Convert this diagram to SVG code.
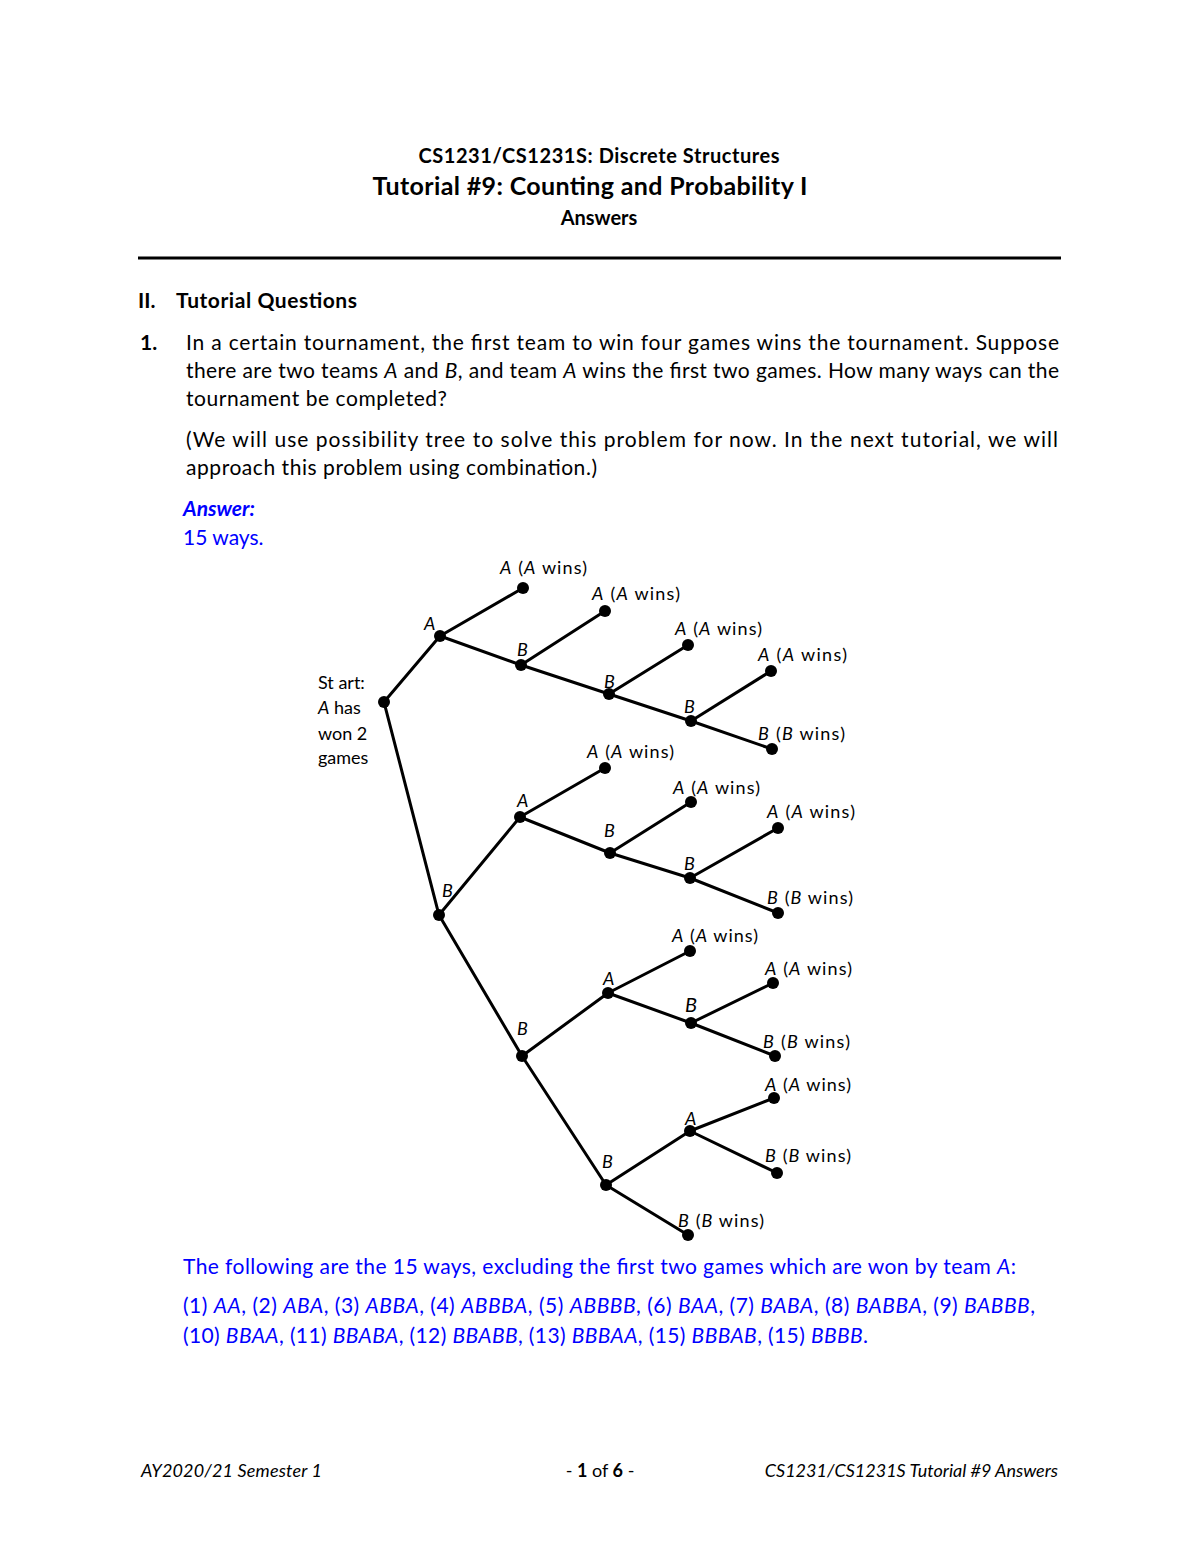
<svg xmlns="http://www.w3.org/2000/svg" width="1200" height="1553" viewBox="0 0 1200 1553">
<style>
text{font-family:Lato,"Open Sans","Liberation Sans",sans-serif;fill:#000}
.b{font-weight:bold}
.i{font-style:italic}
.body{font-size:21px}
.blue{fill:#0000ff}
.lbl{font-size:18px}
.edge{stroke:#000;stroke-width:3;stroke-linecap:round;fill:none}
.dot{fill:#000}
</style>
<rect width="1200" height="1553" fill="#fff"/>
<g id="header">
<text class="b" x="599" y="163" font-size="20" text-anchor="middle" textLength="361">CS1231/CS1231S: Discrete Structures</text>
<text class="b" x="590" y="195" font-size="25" text-anchor="middle" textLength="435">Tutorial #9: Counting and Probability I</text>
<text class="b" x="599" y="225" font-size="20" text-anchor="middle">Answers</text>
<line x1="138" y1="258" x2="1061" y2="258" stroke="#000" stroke-width="3"/>
</g>
<g id="question" class="body">
<text class="b" x="138" y="308">II.</text>
<text class="b" x="176" y="308" textLength="181">Tutorial Questions</text>
<text class="b" x="140" y="350">1.</text>
<text x="186" y="350" textLength="873">In a certain tournament, the first team to win four games wins the tournament. Suppose</text>
<text x="186" y="378" textLength="873">there are two teams <tspan class="i">A</tspan> and <tspan class="i">B</tspan>, and team <tspan class="i">A</tspan> wins the first two games. How many ways can the</text>
<text x="186" y="406" textLength="261">tournament be completed?</text>
<text x="186" y="447" textLength="872">(We will use possibility tree to solve this problem for now. In the next tutorial, we will</text>
<text x="186" y="475" textLength="411">approach this problem using combination.)</text>
<text class="b i blue" x="183" y="516">Answer:</text>
<text class="blue" x="183" y="545">15 ways.</text>
</g>
<g id="connectors">
<line class="edge" x1="384" y1="702" x2="440" y2="636"/>
<line class="edge" x1="384" y1="702" x2="439" y2="915"/>
<line class="edge" x1="440" y1="636" x2="523" y2="588"/>
<line class="edge" x1="440" y1="636" x2="521" y2="665"/>
<line class="edge" x1="521" y1="665" x2="605" y2="611"/>
<line class="edge" x1="521" y1="665" x2="609" y2="694"/>
<line class="edge" x1="609" y1="694" x2="688" y2="645"/>
<line class="edge" x1="609" y1="694" x2="691" y2="721"/>
<line class="edge" x1="691" y1="721" x2="771" y2="671"/>
<line class="edge" x1="691" y1="721" x2="772" y2="749"/>
<line class="edge" x1="439" y1="915" x2="520" y2="817"/>
<line class="edge" x1="439" y1="915" x2="522" y2="1056"/>
<line class="edge" x1="520" y1="817" x2="605" y2="768"/>
<line class="edge" x1="520" y1="817" x2="610" y2="853"/>
<line class="edge" x1="610" y1="853" x2="691" y2="802"/>
<line class="edge" x1="610" y1="853" x2="690" y2="878"/>
<line class="edge" x1="690" y1="878" x2="778" y2="828"/>
<line class="edge" x1="690" y1="878" x2="778" y2="913"/>
<line class="edge" x1="522" y1="1056" x2="608" y2="993"/>
<line class="edge" x1="522" y1="1056" x2="606" y2="1185"/>
<line class="edge" x1="608" y1="993" x2="690" y2="951"/>
<line class="edge" x1="608" y1="993" x2="691" y2="1023"/>
<line class="edge" x1="691" y1="1023" x2="773" y2="983"/>
<line class="edge" x1="691" y1="1023" x2="775" y2="1056"/>
<line class="edge" x1="606" y1="1185" x2="690" y2="1131"/>
<line class="edge" x1="606" y1="1185" x2="688" y2="1235"/>
<line class="edge" x1="690" y1="1131" x2="774" y2="1098"/>
<line class="edge" x1="690" y1="1131" x2="777" y2="1173"/>
</g>
<g id="tree" class="lbl">
<g id="start"><circle class="dot" cx="384" cy="702" r="6"/>
<text x="318" y="689" font-size="18">St art:</text>
<text x="318" y="714" font-size="18"><tspan class="i">A</tspan> has</text>
<text x="318" y="740" font-size="18">won 2</text>
<text x="318" y="764" font-size="18">games</text></g>
<g id="n-A"><circle class="dot" cx="440" cy="636" r="6"/><text class="i" x="424" y="630" font-size="18">A</text></g>
<g id="n-AA"><circle class="dot" cx="523" cy="588" r="6"/><text x="500" y="574" font-size="18" textLength="87"><tspan class="i">A</tspan> (<tspan class="i">A</tspan> wins)</text></g>
<g id="n-AB"><circle class="dot" cx="521" cy="665" r="6"/><text class="i" x="517" y="656" font-size="18">B</text></g>
<g id="n-ABA"><circle class="dot" cx="605" cy="611" r="6"/><text x="592" y="600" font-size="18" textLength="88"><tspan class="i">A</tspan> (<tspan class="i">A</tspan> wins)</text></g>
<g id="n-ABB"><circle class="dot" cx="609" cy="694" r="6"/><text class="i" x="604" y="688" font-size="18">B</text></g>
<g id="n-ABBA"><circle class="dot" cx="688" cy="645" r="6"/><text x="675" y="635" font-size="18" textLength="87"><tspan class="i">A</tspan> (<tspan class="i">A</tspan> wins)</text></g>
<g id="n-ABBB"><circle class="dot" cx="691" cy="721" r="6"/><text class="i" x="684" y="713" font-size="18">B</text></g>
<g id="n-ABBBA"><circle class="dot" cx="771" cy="671" r="6"/><text x="758" y="661" font-size="18" textLength="89"><tspan class="i">A</tspan> (<tspan class="i">A</tspan> wins)</text></g>
<g id="n-ABBBB"><circle class="dot" cx="772" cy="749" r="6"/><text x="758" y="740" font-size="18" textLength="87"><tspan class="i">B</tspan> (<tspan class="i">B</tspan> wins)</text></g>
<g id="n-B"><circle class="dot" cx="439" cy="915" r="6"/><text class="i" x="442" y="897" font-size="18">B</text></g>
<g id="n-BA"><circle class="dot" cx="520" cy="817" r="6"/><text class="i" x="517" y="807" font-size="18">A</text></g>
<g id="n-BAA"><circle class="dot" cx="605" cy="768" r="6"/><text x="587" y="758" font-size="18" textLength="87"><tspan class="i">A</tspan> (<tspan class="i">A</tspan> wins)</text></g>
<g id="n-BAB"><circle class="dot" cx="610" cy="853" r="6"/><text class="i" x="604" y="837" font-size="18">B</text></g>
<g id="n-BABA"><circle class="dot" cx="691" cy="802" r="6"/><text x="673" y="794" font-size="18" textLength="87"><tspan class="i">A</tspan> (<tspan class="i">A</tspan> wins)</text></g>
<g id="n-BABB"><circle class="dot" cx="690" cy="878" r="6"/><text class="i" x="684" y="870" font-size="18">B</text></g>
<g id="n-BABBA"><circle class="dot" cx="778" cy="828" r="6"/><text x="767" y="818" font-size="18" textLength="88"><tspan class="i">A</tspan> (<tspan class="i">A</tspan> wins)</text></g>
<g id="n-BABBB"><circle class="dot" cx="778" cy="913" r="6"/><text x="767" y="904" font-size="18" textLength="86"><tspan class="i">B</tspan> (<tspan class="i">B</tspan> wins)</text></g>
<g id="n-BB"><circle class="dot" cx="522" cy="1056" r="6"/><text class="i" x="517" y="1035" font-size="18">B</text></g>
<g id="n-BBA"><circle class="dot" cx="608" cy="993" r="6"/><text class="i" x="603" y="985" font-size="18">A</text></g>
<g id="n-BBAA"><circle class="dot" cx="690" cy="951" r="6"/><text x="672" y="942" font-size="18" textLength="86"><tspan class="i">A</tspan> (<tspan class="i">A</tspan> wins)</text></g>
<g id="n-BBAB"><circle class="dot" cx="691" cy="1023" r="6"/><text class="i" x="685" y="1012" font-size="20">B</text></g>
<g id="n-BBABA"><circle class="dot" cx="773" cy="983" r="6"/><text x="765" y="975" font-size="18" textLength="87"><tspan class="i">A</tspan> (<tspan class="i">A</tspan> wins)</text></g>
<g id="n-BBABB"><circle class="dot" cx="775" cy="1056" r="6"/><text x="763" y="1048" font-size="18" textLength="87"><tspan class="i">B</tspan> (<tspan class="i">B</tspan> wins)</text></g>
<g id="n-BBB"><circle class="dot" cx="606" cy="1185" r="6"/><text class="i" x="602" y="1168" font-size="18">B</text></g>
<g id="n-BBBA"><circle class="dot" cx="690" cy="1131" r="6"/><text class="i" x="685" y="1125" font-size="18">A</text></g>
<g id="n-BBBAA"><circle class="dot" cx="774" cy="1098" r="6"/><text x="765" y="1091" font-size="18" textLength="86"><tspan class="i">A</tspan> (<tspan class="i">A</tspan> wins)</text></g>
<g id="n-BBBAB"><circle class="dot" cx="777" cy="1173" r="6"/><text x="765" y="1162" font-size="18" textLength="86"><tspan class="i">B</tspan> (<tspan class="i">B</tspan> wins)</text></g>
<g id="n-BBBB"><circle class="dot" cx="688" cy="1235" r="6"/><text x="678" y="1227" font-size="18" textLength="86"><tspan class="i">B</tspan> (<tspan class="i">B</tspan> wins)</text></g>
</g>
<g id="answer" class="body">
<text class="blue" x="183" y="1274" textLength="833">The following are the 15 ways, excluding the first two games which are won by team <tspan class="i">A</tspan>:</text>
<text class="blue" x="183" y="1313" textLength="852">(1) <tspan class="i">AA</tspan>, (2) <tspan class="i">ABA</tspan>, (3) <tspan class="i">ABBA</tspan>, (4) <tspan class="i">ABBBA</tspan>, (5) <tspan class="i">ABBBB</tspan>, (6) <tspan class="i">BAA</tspan>, (7) <tspan class="i">BABA</tspan>, (8) <tspan class="i">BABBA</tspan>, (9) <tspan class="i">BABBB</tspan>,</text>
<text class="blue" x="183" y="1343" textLength="685">(10) <tspan class="i">BBAA</tspan>, (11) <tspan class="i">BBABA</tspan>, (12) <tspan class="i">BBABB</tspan>, (13) <tspan class="i">BBBAA</tspan>, (15) <tspan class="i">BBBAB</tspan>, (15) <tspan class="i">BBBB</tspan>.</text>
</g>
<g id="footer" font-size="18">
<text class="i" x="141" y="1477" font-size="18" textLength="181">AY2020/21 Semester 1</text>
<text x="600" y="1477" font-size="18" text-anchor="middle"><tspan>- </tspan><tspan class="b">1</tspan> of <tspan class="b">6</tspan> -</text>
<text class="i" x="1058" y="1477" font-size="18" text-anchor="end">CS1231/CS1231S Tutorial #9 Answers</text>
</g>
</svg>
